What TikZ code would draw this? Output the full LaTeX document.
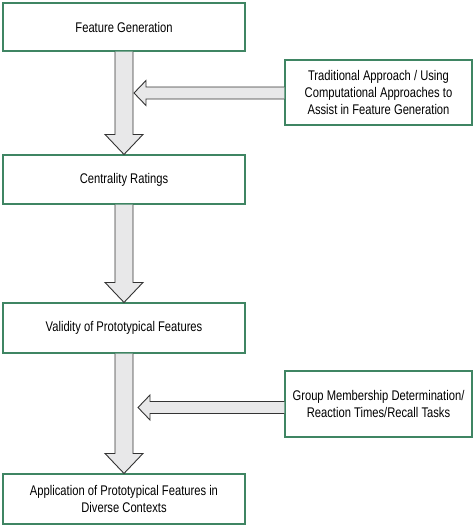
\documentclass[tikz,border=0pt]{standalone}
\usepackage{fontspec}
\setmainfont[FakeStretch=0.8]{Liberation Sans}
\usetikzlibrary{calc}
\definecolor{boxgreen}{HTML}{3F8563}
\definecolor{arrowfill}{HTML}{E8E8E9}
\definecolor{arrowline}{HTML}{333333}
\newcommand\downarr[2]{%
  \draw[bigarr] ($(#1.south)+(-9,0)$) -- ($(#2.north)+(-9,-20)$) -- ($(#2.north)+(-19,-20)$) -- (#2.north) -- ($(#2.north)+(19,-20)$) -- ($(#2.north)+(9,-20)$) -- ($(#1.south)+(9,0)$);}
\newcommand\leftarr[2]{%
  \coordinate (tmpbase) at (#1.west |- #2);
  \draw[bigarr] ($(tmpbase)+(0,-6)$) -- ($(#2)+(12,-6)$) -- ($(#2)+(12,-12.5)$) -- (#2) -- ($(#2)+(12,12.5)$) -- ($(#2)+(12,6)$) -- ($(tmpbase)+(0,6)$);}
\begin{document}
\begin{tikzpicture}[x=1pt,y=-1pt,
  box/.style={draw=boxgreen, line width=1.1pt, minimum width=242pt, align=center,
    font=\fontsize{14}{17.3}\selectfont, inner sep=0pt},
  sidebox/.style={box, minimum width=187pt},
  bigarr/.style={draw=arrowline, fill=arrowfill, line width=0.9pt, line join=miter}]
\useasboundingbox (0,0) rectangle (474,527);
\node[box, minimum height=48pt] (b1) at (124,27) {Feature Generation};
\node[box, minimum height=49pt] (b2) at (124,179.5) {Centrality Ratings};
\node[box, minimum height=50pt] (b3) at (124,328) {Validity of Prototypical Features};
\node[box, minimum height=50pt] (b4) at (124,499) {Application of Prototypical Features in\\Diverse Contexts};
\node[sidebox, minimum height=65pt] (s1) at (378.5,92.5) {Traditional Approach / Using\\Computational Approaches to\\Assist in Feature Generation};
\node[sidebox, minimum height=66pt] (s2) at (378.5,404) {Group Membership Determination/\\Reaction Times/Recall Tasks};
\coordinate (t1) at (134,93);
\coordinate (t2) at (138,407.5);
\downarr{b1}{b2}
\downarr{b2}{b3}
\downarr{b3}{b4}
\leftarr{s1}{t1}
\leftarr{s2}{t2}
\end{tikzpicture}
\end{document}
